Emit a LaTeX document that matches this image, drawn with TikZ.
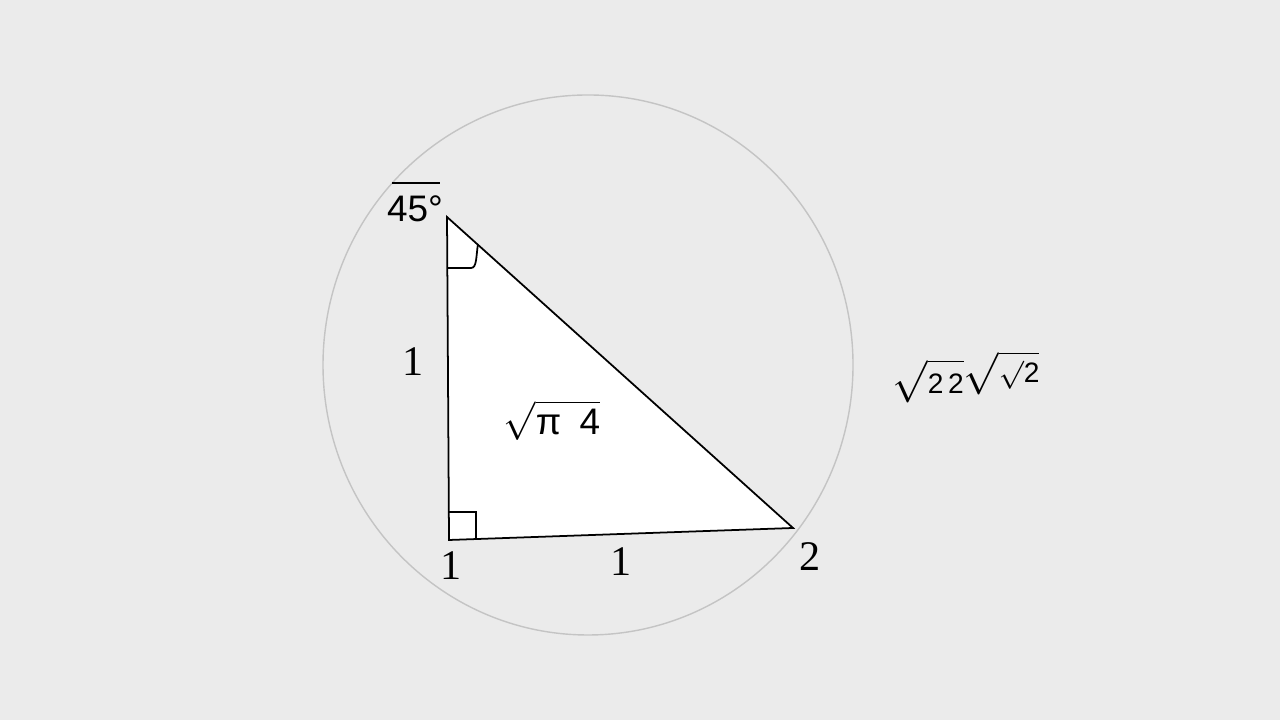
\documentclass[tikz,border=0pt]{standalone}
\usepackage{fontspec}
\setmainfont{Liberation Serif}
\setsansfont{Liberation Sans}
\usetikzlibrary{calc}
\definecolor{paper}{HTML}{EBEBEB}
\definecolor{rim}{HTML}{C4C4C4}
\tikzset{num/.style={font=\fontsize{12}{14}\selectfont},
  sym/.style={font=\sffamily\fontsize{10.5}{12}\selectfont}}
\begin{document}
\begin{tikzpicture}
    \fill[paper](0,0)rectangle(12.8,7.2);
    \useasboundingbox(0,0)rectangle(12.8,7.2);
    \coordinate(O)at(5.88,3.55);
    \draw[rim,line width=.4pt](O)ellipse[x radius=2.65,y radius=2.70];
    \coordinate(A)at(4.47,5.03);
    \coordinate(B)at(4.49,1.80);
    \coordinate(C)at(7.93,1.92);
    \draw[line width=.5pt,fill=white](A)--(B)--(C)--cycle;
    \draw[line width=.5pt](B)++(0,.28)coordinate(Bu)--++(.27,0)coordinate(Bc)--++(0,-.27);
    \draw[line width=.5pt](4.48,4.52)--(4.71,4.52)..controls(4.77,4.52)and(4.76,4.64)..(4.78,4.76);
    \node[sym](ang)at(4.15,5.11){45°};
    \draw[line width=.4pt](3.92,5.37)--(4.40,5.37);
    \node[num](left)at(4.13,3.58){1};
    \node[num](bot)at($(B)!.5!(C)+(0,-.28)$){1};
    \node[num](b1)at(4.51,1.54){1};
    \node[num](c2)at(8.10,1.63){2};
    \node[sym](mid)at(5.52,3.00){$\sqrt{\hbox{\sffamily π\enspace 4}}$};
    \node[sym,font=\sffamily\fontsize{11.5}{14}\selectfont](rt)at(9.66,3.43){$\sqrt{\lower.9ex\hbox{\footnotesize 2\,2}}\sqrt{\lower.4ex\hbox{\footnotesize$\surd$2}}$};
  \end{tikzpicture}
\end{document}
